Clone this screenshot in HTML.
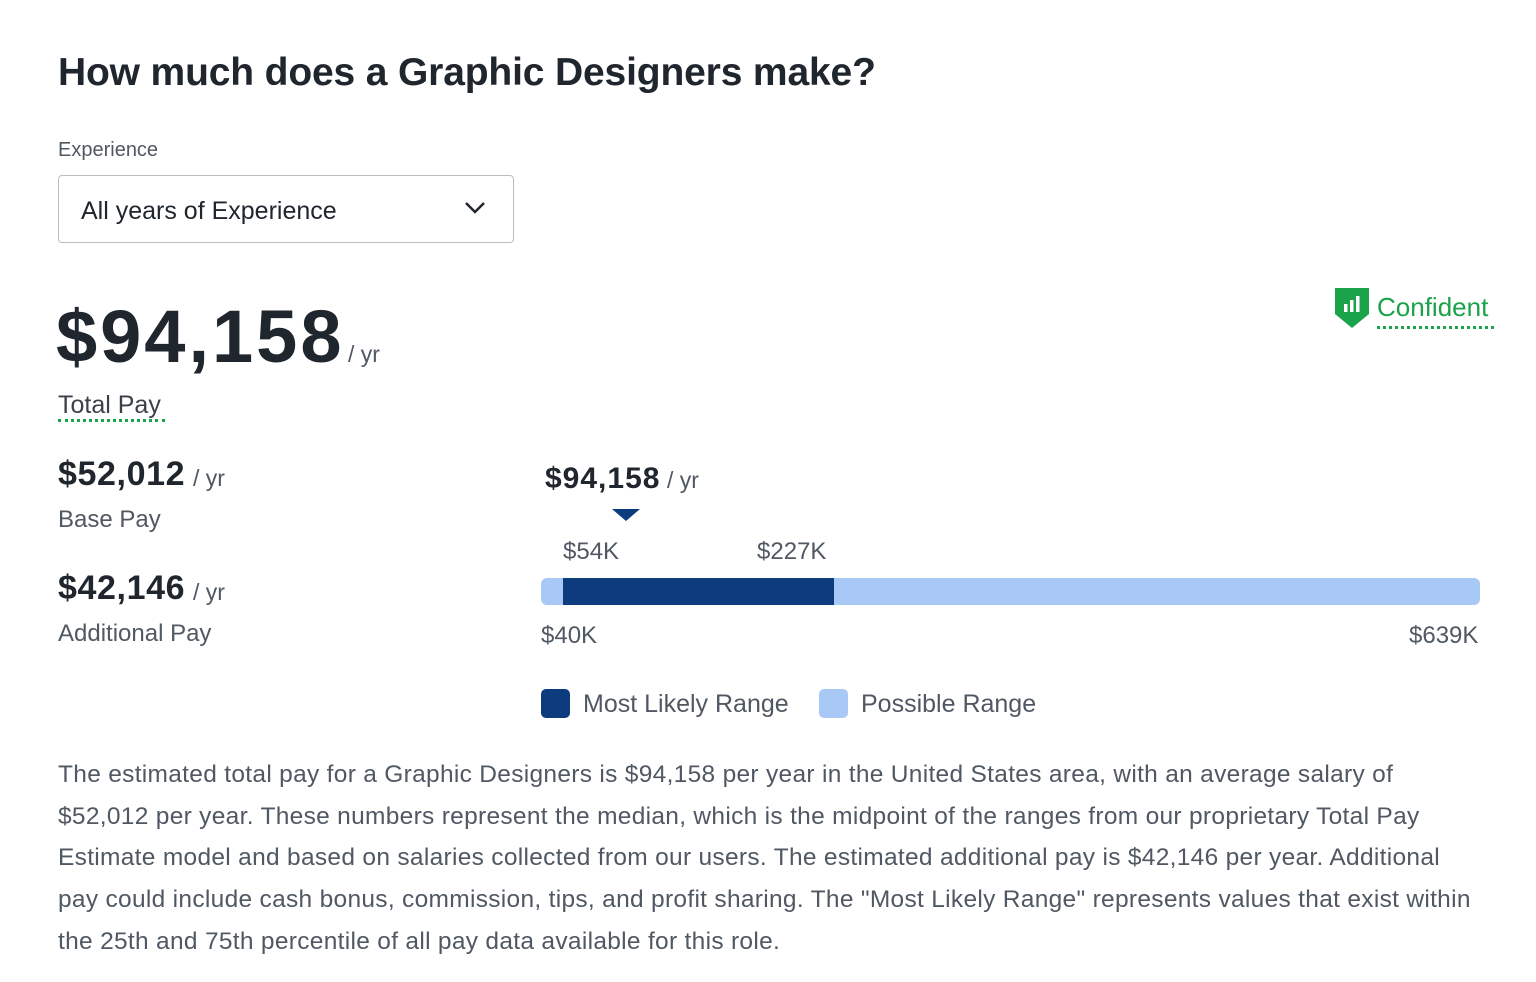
<!DOCTYPE html>
<html><head><meta charset="utf-8"><style>
*{margin:0;padding:0;box-sizing:border-box}
body{width:1536px;height:982px;background:#fff;font-family:"Liberation Sans",sans-serif;color:#20262e;position:relative;overflow:hidden}
.a{position:absolute;white-space:nowrap}
.g{color:#505863}
</style></head><body>
<div class="a" style="left:58px;top:51px;font-size:39px;font-weight:bold;letter-spacing:-0.15px">How much does a Graphic Designers make?</div>
<div class="a g" style="left:58px;top:139px;font-size:20px">Experience</div>
<div class="a" style="left:58px;top:175px;width:456px;height:68px;border:1.5px solid #b9bec4;border-radius:4px"></div>
<div class="a" style="left:81px;top:197px;font-size:25px;color:#20262e">All years of Experience</div>
<svg class="a" style="left:463px;top:200px" width="24" height="16"><path d="M3 3 L12 12 L21 3" stroke="#20262e" stroke-width="2.5" fill="none"/></svg>
<div class="a" style="left:56px;top:294px;font-size:74px;font-weight:bold;letter-spacing:3px">$94,158</div>
<div class="a g" style="left:348px;top:341px;font-size:23px">/ yr</div>
<div class="a" style="left:58px;top:391px;font-size:25px;color:#3a414a">Total Pay</div>
<div class="a" style="left:58px;top:419px;width:107px;border-top:3px dotted #1aa34a"></div>
<svg class="a" style="left:1333px;top:286px" width="38" height="44"><path d="M2 2 H36 V28 L19 42 L2 28 Z" fill="#1aa34a"/><rect x="11" y="18" width="3.5" height="8" fill="#fff"/><rect x="17" y="14" width="3.5" height="12" fill="#fff"/><rect x="23" y="10" width="3.5" height="16" fill="#fff"/></svg>
<div class="a" style="left:1377px;top:292px;font-size:26px;color:#1aa34a">Confident</div>
<div class="a" style="left:1377px;top:326px;width:117px;border-top:3px dotted #1aa34a"></div>
<div class="a" style="left:58px;top:455px;font-size:34px;font-weight:bold;letter-spacing:0.6px">$52,012</div>
<div class="a g" style="left:193px;top:465px;font-size:23px">/ yr</div>
<div class="a g" style="left:58px;top:506px;font-size:24px">Base Pay</div>
<div class="a" style="left:58px;top:569px;font-size:34px;font-weight:bold;letter-spacing:0.6px">$42,146</div>
<div class="a g" style="left:193px;top:579px;font-size:23px">/ yr</div>
<div class="a g" style="left:58px;top:620px;font-size:24px">Additional Pay</div>
<div class="a" style="left:545px;top:462px;font-size:30px;font-weight:bold;letter-spacing:1px">$94,158</div>
<div class="a g" style="left:667px;top:467px;font-size:23px">/ yr</div>
<svg class="a" style="left:611px;top:508px" width="30" height="14"><path d="M1 1 H29 L15 13 Z" fill="#0c3b7e"/></svg>
<div class="a g" style="left:563px;top:538px;font-size:24px">$54K</div>
<div class="a g" style="left:757px;top:538px;font-size:24px">$227K</div>
<div class="a" style="left:541px;top:578px;width:939px;height:27px;background:#a8c8f5;border-radius:6px"></div>
<div class="a" style="left:563px;top:578px;width:271px;height:27px;background:#0c3b7e"></div>
<div class="a g" style="left:541px;top:622px;font-size:24px">$40K</div>
<div class="a g" style="left:1409px;top:622px;font-size:24px">$639K</div>
<div class="a" style="left:541px;top:689px;width:29px;height:29px;background:#0c3b7e;border-radius:5px"></div>
<div class="a g" style="left:583px;top:690px;font-size:25px">Most Likely Range</div>
<div class="a" style="left:819px;top:689px;width:29px;height:29px;background:#a8c8f5;border-radius:5px"></div>
<div class="a g" style="left:861px;top:690px;font-size:25px">Possible Range</div>
<div class="a g" style="left:58px;top:754px;font-size:24.5px;line-height:41.7px;letter-spacing:0.3px">The estimated total pay for a Graphic Designers is $94,158 per year in the United States area, with an average salary of<br>$52,012 per year. These numbers represent the median, which is the midpoint of the ranges from our proprietary Total Pay<br>Estimate model and based on salaries collected from our users. The estimated additional pay is $42,146 per year. Additional<br>pay could include cash bonus, commission, tips, and profit sharing. The "Most Likely Range" represents values that exist within<br>the 25th and 75th percentile of all pay data available for this role.</div>
</body></html>
